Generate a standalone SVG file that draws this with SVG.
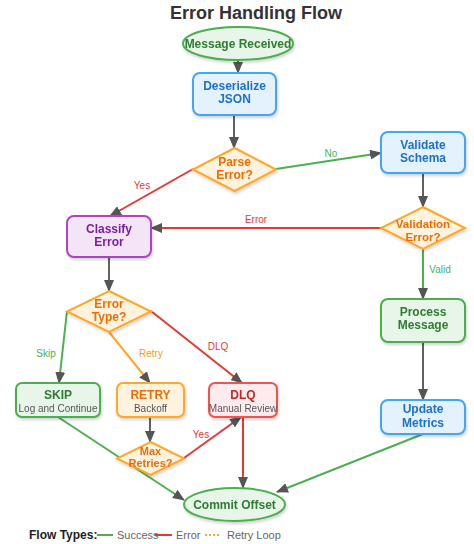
<svg xmlns="http://www.w3.org/2000/svg" width="474" height="544" viewBox="0 0 474 544">
<style>
text{font-family:"Liberation Sans",Arial,sans-serif;text-anchor:middle}
.title{font-size:18px;font-weight:bold;fill:#333}
.n{font-size:12px;font-weight:bold}
.s{font-size:10px;fill:#555}
.lbl{font-size:10px}
.g{fill:#e8f5e9;stroke:#4caf50;stroke-width:2}
.b{fill:#e3f2fd;stroke:#42a5f5;stroke-width:2}
.o{fill:#fff3e0;stroke:#ffa726;stroke-width:2}
.p{fill:#f3e5f5;stroke:#ab47bc;stroke-width:2}
.r{fill:#ffebee;stroke:#ef5350;stroke-width:2}
.tg{fill:#2e7d32}.tb{fill:#1e6fcf}.to{fill:#ef6c00}.tp{fill:#7b1fa2}.tr{fill:#c62828}
.e{fill:none;stroke-width:2}
.eg{stroke:#4caf50}.er{stroke:#e53935}.eo{stroke:#ffa726}.ek{stroke:#616161}
.lg{fill:#4caf50}.lr{fill:#e53935}.lo{fill:#f59a1a}
</style>
<defs>
<marker id="ah" viewBox="0 0 12 10" refX="11" refY="5" markerWidth="12" markerHeight="10" markerUnits="userSpaceOnUse" orient="auto">
<path d="M0,0 L12,5 L0,10 Z" fill="#555"/>
</marker>
<filter id="sh" x="-20%" y="-20%" width="140%" height="150%">
<feDropShadow dx="1" dy="2" stdDeviation="1.5" flood-color="#000" flood-opacity="0.18"/>
</filter>
</defs>
<text class="title" x="256" y="19">Error Handling Flow</text>

<g id="connectors">
<line class="e ek" x1="238" y1="60" x2="238" y2="73" marker-end="url(#ah)"/>
<line class="e ek" x1="234" y1="115" x2="234" y2="148" marker-end="url(#ah)"/>
<line class="e eg" x1="276" y1="169" x2="381" y2="153" marker-end="url(#ah)"/>
<text class="lbl lg" x="331" y="157">No</text>
<line class="e er" x1="193" y1="169" x2="110" y2="216" marker-end="url(#ah)"/>
<text class="lbl lr" x="142" y="189">Yes</text>
<line class="e ek" x1="423" y1="173" x2="423" y2="207" marker-end="url(#ah)"/>
<line class="e er" x1="381" y1="228" x2="151" y2="228" marker-end="url(#ah)"/>
<text class="lbl lr" x="256" y="223">Error</text>
<line class="e eg" x1="423" y1="249" x2="423" y2="299" marker-end="url(#ah)"/>
<text class="lbl lg" x="440" y="273">Valid</text>
<line class="e ek" x1="423" y1="342" x2="423" y2="400" marker-end="url(#ah)"/>
<line class="e ek" x1="109" y1="257" x2="109" y2="291" marker-end="url(#ah)"/>
<line class="e eg" x1="67" y1="311" x2="59" y2="383" marker-end="url(#ah)"/>
<text class="lbl lg" x="46" y="357">Skip</text>
<line class="e eo" x1="109" y1="332" x2="150" y2="383" marker-end="url(#ah)"/>
<text class="lbl lo" x="151" y="357">Retry</text>
<line class="e er" x1="151" y1="311" x2="242" y2="383" marker-end="url(#ah)"/>
<text class="lbl lr" x="218" y="350">DLQ</text>
<line class="e ek" x1="150" y1="417" x2="150" y2="442" marker-end="url(#ah)"/>
<line class="e er" x1="184" y1="458" x2="241" y2="417" marker-end="url(#ah)"/>
<text class="lbl lr" x="201" y="438">Yes</text>
<line class="e er" x1="243" y1="417" x2="243" y2="488" marker-end="url(#ah)"/>
<line class="e eg" x1="58" y1="417" x2="184" y2="500" marker-end="url(#ah)"/>
<line class="e eg" x1="423" y1="434" x2="277" y2="492" marker-end="url(#ah)"/>
</g>

<g id="message-received" filter="url(#sh)">
<ellipse class="g" cx="238" cy="43.5" rx="55" ry="16.5"/>
<text class="n tg" x="238" y="48">Message Received</text>
</g>
<g id="deserialize" filter="url(#sh)">
<rect class="b" x="193" y="73" width="83" height="42" rx="7"/>
<text class="n tb" x="234.5" y="90">Deserialize</text>
<text class="n tb" x="234.5" y="103">JSON</text>
</g>
<g id="parse-error" filter="url(#sh)">
<polygon class="o" points="234.5,148 276,169.5 234.5,191 193,169.5"/>
<text class="n to" x="234.5" y="166">Parse</text>
<text class="n to" x="234.5" y="179">Error?</text>
</g>
<g id="validate-schema" filter="url(#sh)">
<rect class="b" x="381" y="132" width="84" height="41" rx="7"/>
<text class="n tb" x="423" y="149">Validate</text>
<text class="n tb" x="423" y="162">Schema</text>
</g>
<g id="validation-error" filter="url(#sh)">
<polygon class="o" points="423,207 465,228 423,249 381,228"/>
<text class="n to" x="423" y="228" style="font-size:11.5px">Validation</text>
<text class="n to" x="423" y="241" style="font-size:11.5px">Error?</text>
</g>
<g id="classify-error" filter="url(#sh)">
<rect class="p" x="67" y="216" width="84" height="41" rx="7"/>
<text class="n tp" x="109" y="233">Classify</text>
<text class="n tp" x="109" y="246">Error</text>
</g>
<g id="process-message" filter="url(#sh)">
<rect class="g" x="381" y="299" width="84" height="43" rx="7"/>
<text class="n tg" x="423" y="316">Process</text>
<text class="n tg" x="423" y="329">Message</text>
</g>
<g id="update-metrics" filter="url(#sh)">
<rect class="b" x="381" y="400" width="84" height="34" rx="7"/>
<text class="n tb" x="423" y="413">Update</text>
<text class="n tb" x="423" y="427">Metrics</text>
</g>
<g id="error-type" filter="url(#sh)">
<polygon class="o" points="109,291 151,311.5 109,332 67,311.5"/>
<text class="n to" x="109" y="308">Error</text>
<text class="n to" x="109" y="321">Type?</text>
</g>
<g id="skip" filter="url(#sh)">
<rect class="g" x="16" y="383" width="84" height="34" rx="6"/>
<text class="n tg" x="58" y="399">SKIP</text>
<text class="s" x="58" y="412">Log and Continue</text>
</g>
<g id="retry" filter="url(#sh)">
<rect class="o" x="117" y="383" width="67" height="34" rx="6"/>
<text class="n to" x="150.5" y="399">RETRY</text>
<text class="s" x="150.5" y="412">Backoff</text>
</g>
<g id="dlq" filter="url(#sh)">
<rect class="r" x="209" y="383" width="68" height="34" rx="6"/>
<text class="n tr" x="243" y="399">DLQ</text>
<text class="s" x="243" y="412">Manual Review</text>
</g>
<g id="max-retries" filter="url(#sh)">
<polygon class="o" points="150.5,442 184,458.5 150.5,475 117,458.5"/>
<text class="n to" x="150.5" y="455" style="font-size:11px">Max</text>
<text class="n to" x="150.5" y="467" style="font-size:11px">Retries?</text>
</g>
<g id="commit-offset" filter="url(#sh)">
<ellipse class="g" cx="234.5" cy="504.5" rx="50.5" ry="16.5"/>
<text class="n tg" x="234.5" y="509">Commit Offset</text>
</g>

<g id="legend">
<text x="29" y="539" style="text-anchor:start;font-size:12px;font-weight:bold;fill:#222">Flow Types:</text>
<line x1="97" y1="535" x2="113" y2="535" stroke="#4caf50" stroke-width="2"/>
<text x="117" y="539" style="text-anchor:start;font-size:11px;fill:#666">Success</text>
<line x1="155" y1="535" x2="172" y2="535" stroke="#e53935" stroke-width="2"/>
<text x="176" y="539" style="text-anchor:start;font-size:11px;fill:#666">Error</text>
<line x1="205" y1="535" x2="220" y2="535" stroke="#ffa726" stroke-width="2" stroke-dasharray="2,2"/>
<text x="227" y="539" style="text-anchor:start;font-size:11px;fill:#666">Retry Loop</text>
</g>
</svg>
